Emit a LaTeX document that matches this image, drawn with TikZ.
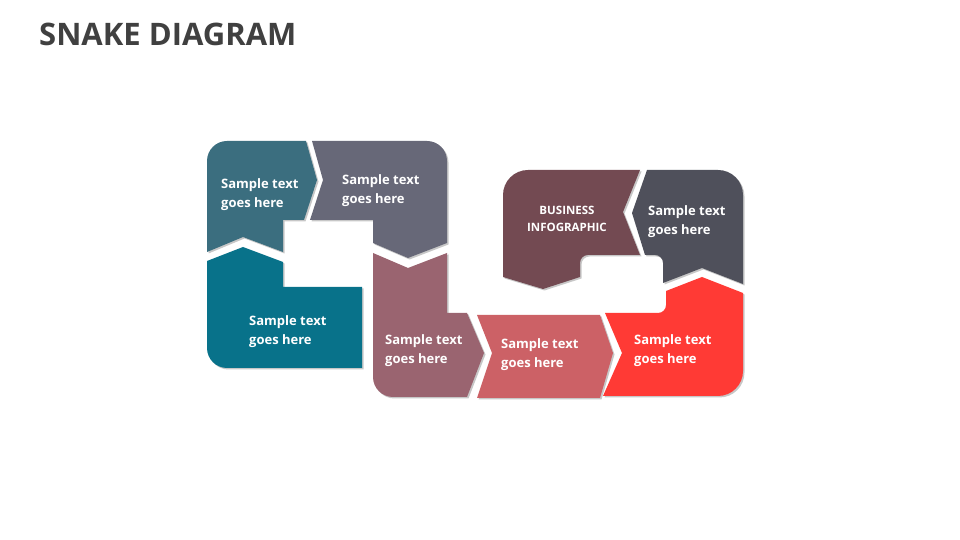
\documentclass[tikz,border=0pt]{standalone}
\usepackage{fontspec}
\setmainfont{Open Sans}
\usetikzlibrary{shadows}
\definecolor{cA}{HTML}{3B6E7F}
\definecolor{cB}{HTML}{08728A}
\definecolor{cC}{HTML}{676878}
\definecolor{cD}{HTML}{9A6470}
\definecolor{cE}{HTML}{CC6166}
\definecolor{cF}{HTML}{FF3A35}
\definecolor{cG}{HTML}{4F505B}
\definecolor{cH}{HTML}{734A52}
\definecolor{titlegray}{HTML}{404040}
\tikzset{
  piece/.style={fill=#1, drop shadow={shadow xshift=1.5pt, shadow yshift=-1.5pt, opacity=0.22, fill=black}},
  txt/.style={text=white, font=\bfseries\fontsize{13}{19}\selectfont, align=left, anchor=west, inner sep=0pt},
  bigtxt/.style={text=white, font=\bfseries\fontsize{11.5}{17}\selectfont, align=center, anchor=center, inner sep=0pt}
}
\begin{document}
\begin{tikzpicture}[x=1pt,y=1pt]
\useasboundingbox (0,0) rectangle (960,540);
\fill[white] (0,0) rectangle (960,540);
\node[anchor=west, inner sep=0pt, text=titlegray, font=\bfseries\fontsize{31}{36}\selectfont] (title) at (39,506) {SNAKE DIAGRAM};
% A
\fill[piece=cA] (207,288) -- (207,379) arc[start angle=180,end angle=90,radius=20] -- (306,399) -- (317,360) -- (304,320) -- (283,320) -- (283,288) -- (243,303) -- cycle;
% B
\fill[piece=cB] (207,279) -- (243,293) -- (283,278) -- (283,253) -- (362,253) -- (362,172) -- (227,172) arc[start angle=270,end angle=180,radius=20] -- cycle;
% C
\fill[piece=cC] (312,399) -- (427,399) arc[start angle=90,end angle=0,radius=20] -- (447,297) -- (408,282) -- (373,297) -- (373,320) -- (310,320) -- (323,360) -- cycle;
% D
\fill[piece=cD] (373,287) -- (408,272) -- (447,287) -- (447,227) -- (467,227) -- (484,187) -- (467,143) -- (393,143) arc[start angle=270,end angle=180,radius=20] -- cycle;
% E
\fill[piece=cE] (477,225) -- (600,225) -- (613,187) -- (600,142) -- (477,142) -- (492,187) -- cycle;
% F
\fill[piece=cF] (605,227) -- (658,227) arc[start angle=270,end angle=360,radius=8] -- (666,249) -- (702,263) -- (743,247) -- (743,169) arc[start angle=0,end angle=-90,radius=25] -- (603,144) -- (622,187) -- cycle;
% G
\fill[piece=cG] (647,370) -- (718,370) arc[start angle=90,end angle=0,radius=25] -- (743,256) -- (702,272) -- (663,257) -- (663,277) arc[start angle=0,end angle=90,radius=8] -- (645,285) -- (632,327) -- cycle;
% H
\fill[piece=cH] (503,263) -- (503,345) arc[start angle=180,end angle=90,radius=25] -- (640,370) -- (623,328) -- (640,285) -- (588,285) arc[start angle=90,end angle=180,radius=8] -- (580,263) -- (543,251) -- cycle;
% texts
\node[txt] (tA) at (221,345) {Sample text\\goes here};
\node[txt] (tC) at (342,349) {Sample text\\goes here};
\node[txt] (tB) at (249,208) {Sample text\\goes here};
\node[txt] (tD) at (385,189) {Sample text\\goes here};
\node[txt] (tE) at (501,185) {Sample text\\goes here};
\node[txt] (tF) at (634,189) {Sample text\\goes here};
\node[txt] (tG) at (648,318) {Sample text\\goes here};
\node[bigtxt] (tH) at (567,321) {BUSINESS\\INFOGRAPHIC};
\end{tikzpicture}
\end{document}
